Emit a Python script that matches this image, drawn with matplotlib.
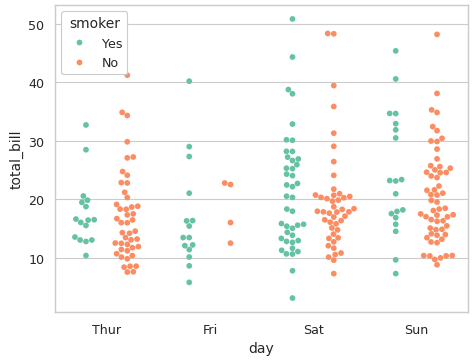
import matplotlib
matplotlib.use("Agg")
import matplotlib.pyplot as plt
import pandas as pd
import seaborn as sns

days = ["Thur", "Fri", "Sat", "Sun"]
smoker_levels = ["Yes", "No"]

# total_bill per day / smoker group
thur_yes = [19.44, 32.68, 16.0, 19.81, 28.44, 15.48, 16.58, 10.34, 43.11, 13.0,
            13.51, 18.71, 12.74, 13.0, 16.4, 20.53, 16.47]
thur_no = [27.2, 22.76, 17.29, 16.66, 10.07, 15.98, 34.83, 13.03, 18.28, 24.71,
           21.16, 10.65, 12.43, 24.08, 11.69, 13.42, 14.26, 15.95, 12.48, 29.8,
           8.52, 14.52, 11.38, 22.82, 19.08, 20.27, 11.17, 12.26, 18.26, 8.51,
           10.33, 14.15, 13.16, 17.47, 34.3, 41.19, 27.05, 16.43, 8.35, 18.64,
           11.87, 9.78, 7.51, 7.56, 18.78]
fri_yes = [28.97, 5.75, 16.32, 40.17, 27.28, 12.03, 21.01, 11.35, 15.38, 12.16,
           13.42, 8.58, 13.42, 16.27, 10.09]
fri_no = [22.49, 22.75, 12.46, 15.98]
sat_yes = [38.01, 11.24, 20.29, 13.81, 11.02, 18.29, 3.07, 15.01, 26.86, 25.28,
           17.92, 44.3, 22.42, 15.36, 20.49, 25.21, 14.31, 10.59, 10.63, 50.81,
           15.81, 26.59, 38.73, 24.27, 12.76, 30.06, 25.89, 13.27, 28.17, 12.9,
           28.15, 11.59, 7.74, 30.14, 22.12, 24.01, 15.69, 15.53, 12.6, 32.83,
           27.18, 22.67]
sat_no = [20.65, 17.92, 20.29, 15.77, 39.42, 19.82, 17.81, 13.37, 12.69, 21.7,
          19.65, 9.55, 18.35, 15.06, 20.69, 17.78, 24.06, 16.31, 16.93, 18.69,
          31.27, 16.04, 26.41, 48.27, 17.59, 20.08, 16.45, 20.23, 12.02, 17.07,
          14.73, 10.51, 20.92, 18.24, 14.0, 7.25, 48.33, 20.45, 13.28, 11.61,
          10.77, 10.07, 35.83, 29.03, 17.82]
sun_yes = [17.51, 7.25, 31.85, 16.82, 32.9, 17.89, 14.48, 9.6, 34.63, 34.65,
           23.33, 45.35, 23.17, 40.55, 20.9, 30.46, 18.15, 23.1, 15.69]
sun_no = [16.99, 10.34, 21.01, 23.68, 24.59, 25.29, 8.77, 26.88, 15.04, 14.78,
          10.27, 35.26, 15.42, 18.43, 14.83, 21.58, 10.33, 16.29, 16.97, 17.46,
          13.94, 9.68, 30.4, 18.29, 22.23, 32.4, 28.55, 18.04, 12.54, 10.29,
          34.81, 9.94, 25.56, 19.49, 38.07, 23.95, 25.71, 17.31, 29.93, 14.07,
          13.13, 17.26, 24.55, 19.77, 29.85, 48.17, 25.0, 13.39, 16.49, 21.5,
          12.66, 16.21, 13.81, 24.52, 20.76, 31.71, 20.69]

groups = [("Thur", "Yes", thur_yes), ("Thur", "No", thur_no),
          ("Fri", "Yes", fri_yes), ("Fri", "No", fri_no),
          ("Sat", "Yes", sat_yes), ("Sat", "No", sat_no),
          ("Sun", "Yes", sun_yes), ("Sun", "No", sun_no)]

rows = []
for day, smoker, bills in groups:
    for b in bills:
        rows.append({"day": day, "smoker": smoker, "total_bill": b})
tips = pd.DataFrame(rows)

sns.set_theme(style="whitegrid")
dpi = 83
fig = plt.figure(figsize=(474 / dpi, 365 / dpi), dpi=dpi)
ax = fig.add_axes([55 / 474, 52 / 365, 413 / 474, 307 / 365])
sns.swarmplot(data=tips, x="day", y="total_bill", hue="smoker",
              order=days, hue_order=smoker_levels, dodge=True,
              palette="Set2", ax=ax)
ax.legend(title="smoker", loc="upper left", framealpha=1)
fig.savefig("out.png", dpi=dpi)
